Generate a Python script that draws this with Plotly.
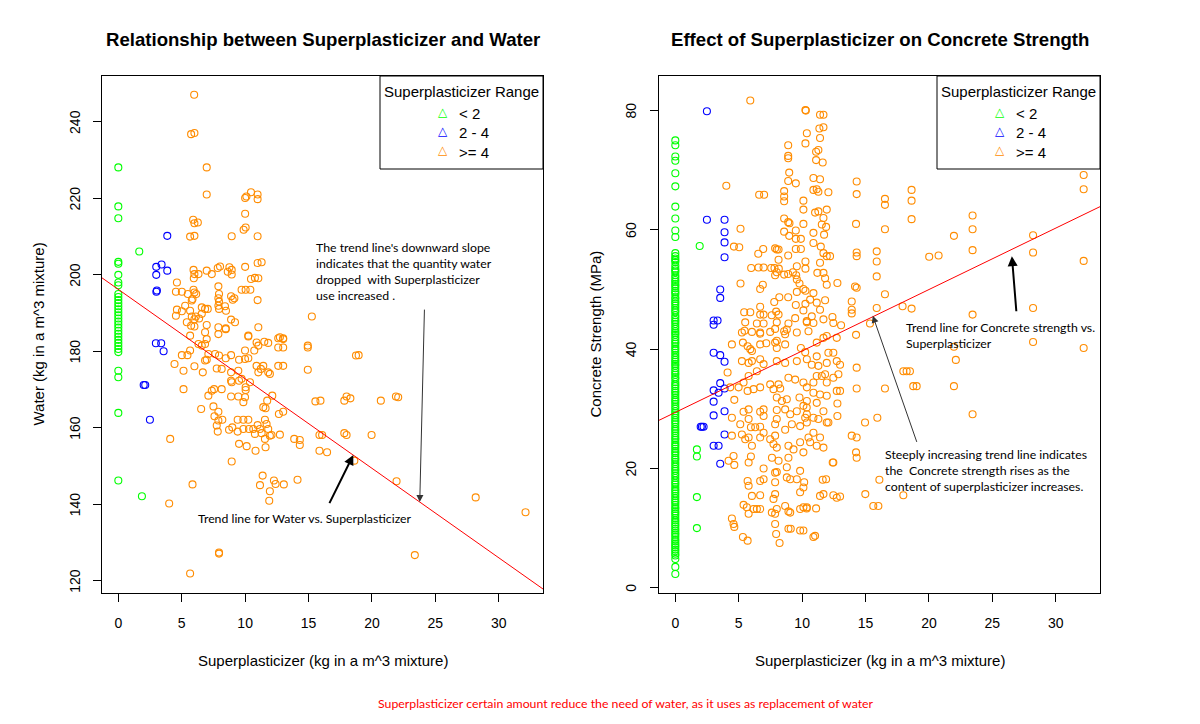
import plotly.graph_objects as go

W, H = 1200, 724

# ---------------- Data: Superplasticizer vs Water ----------------
water_lt2 = [(0, 228.1), (0, 217.9), (0, 214.8), (0, 203.4), (0, 202.9), (0, 200.0), (0, 198.0), (0, 197.3),
             (0, 195.0), (0, 194.2), (0, 193.4), (0, 192.6), (0, 191.8), (0, 191.0), (0, 190.2), (0, 189.4),
             (0, 188.6), (0, 187.8), (0, 187.0), (0, 186.2), (0, 185.4), (0, 184.6), (0, 183.8), (0, 183.0),
             (0, 182.2), (0, 181.4), (0, 180.6), (0, 179.8), (0, 174.9), (0, 173.2), (0, 163.9), (0, 146.2),
             (1.65, 206.1), (1.86, 142.1)]
water_2to4 = [(3.86, 210.2), (2.99, 202.1), (3.41, 202.7), (3.86, 201.1), (2.99, 200.0), (3.04, 195.9),
              (3.0, 195.6), (2.96, 182.1), (3.38, 182.1), (3.57, 180.0), (2.0, 171.2), (2.12, 171.2), (2.49, 162.1)]
water_ge4 = [(5.98, 247.1), (5.74, 236.8), (6.0, 237.1), (6.97, 228.1), (6.97, 221.0), (10.0, 220.1), (10.46, 221.6),
             (10.98, 221.0), (10.98, 219.8), (10.1, 220.5), (10.0, 216.0), (6.0, 213.5), (6.27, 213.7), (5.9, 214.4),
             (9.88, 211.8), (10.04, 212.4), (5.66, 210.0), (6.0, 210.2), (8.94, 210.1), (10.98, 210.1), (10.98, 203.1),
             (11.3, 203.3), (10.0, 202.1), (5.93, 201.3), (6.0, 200.2), (6.32, 200.2), (5.95, 199.1), (6.97, 201.1),
             (7.37, 200.2), (7.84, 201.8), (8.02, 202.2), (8.76, 202.0), (8.94, 201.3), (8.63, 200.8), (8.94, 200.1),
             (10.46, 198.9), (10.77, 199.2), (11.04, 199.1), (4.62, 198.0), (9.72, 196.1), (10.04, 196.1),
             (10.41, 196.1), (10.98, 193.4), (4.54, 195.6), (5.01, 195.6), (5.48, 195.0), (5.93, 196.1), (6.0, 195.4),
             (5.85, 193.7), (6.14, 195.0), (7.89, 197.0), (7.94, 195.0), (7.89, 193.9), (7.94, 193.0), (8.89, 194.4),
             (9.15, 193.9), (9.02, 193.5), (4.62, 190.9), (5.01, 190.5), (4.54, 189.3), (5.27, 191.9), (5.79, 193.3),
             (5.66, 190.6), (6.58, 191.5), (6.84, 191.1), (7.05, 191.1), (6.58, 189.8), (6.11, 189.1), (6.37, 188.6),
             (5.79, 189.1), (6.0, 188.4), (7.89, 191.9), (8.41, 191.8), (8.49, 190.6), (7.94, 191.1), (8.89, 188.3),
             (9.2, 187.6), (5.40, 187.6), (5.74, 186.7), (6.0, 186.5), (6.97, 186.9), (7.89, 186.3), (8.47, 186.0),
             (11.04, 186.3), (6.84, 185.0), (7.89, 184.5), (5.66, 184.1), (10.25, 183.9), (12.74, 183.7),
             (13.0, 183.4), (6.32, 181.9), (6.58, 181.5), (6.84, 181.9), (6.97, 183.2), (8.47, 185.8), (10.25, 184.1),
             (10.90, 182.3), (11.04, 181.5), (11.51, 182.5), (11.82, 182.2), (12.61, 183.4), (13.0, 183.2),
             (12.61, 181.0), (13.0, 181.0), (5.01, 179.0), (5.66, 180.2), (5.45, 179.0), (4.43, 176.7), (5.14, 174.9),
             (6.0, 176.1), (6.66, 174.5), (6.84, 177.6), (6.97, 177.8), (7.10, 179.3), (7.63, 179.3), (7.94, 178.9),
             (7.76, 175.5), (8.15, 175.4), (8.47, 178.2), (8.89, 179.0), (8.89, 174.5), (8.89, 172.3), (9.46, 174.9),
             (9.52, 177.8), (9.99, 180.2), (9.99, 178.0), (10.25, 178.2), (10.72, 180.2), (10.90, 176.2),
             (11.04, 174.5), (11.43, 176.2), (11.24, 175.4), (11.82, 174.5), (11.95, 174.1), (12.61, 176.2),
             (13.0, 176.2), (9.52, 172.3), (9.72, 172.8), (10.04, 170.6), (10.04, 169.9), (10.38, 171.9),
             (8.94, 171.9), (5.14, 170.1), (7.10, 168.4), (7.37, 169.7), (7.55, 170.1), (8.15, 170.1), (8.89, 168.2),
             (9.46, 168.2), (9.99, 168.0), (9.86, 166.7), (12.14, 168.4), (11.74, 167.1), (11.43, 165.4),
             (11.61, 165.1), (12.66, 163.6), (13.0, 164.2), (6.53, 164.9), (7.50, 165.6), (7.89, 164.2),
             (7.58, 163.0), (7.89, 161.9), (8.20, 162.1), (7.76, 160.6), (7.84, 159.0), (9.41, 162.1), (9.86, 162.1),
             (10.25, 162.1), (10.98, 160.7), (11.56, 162.1), (11.69, 161.0), (11.17, 159.7), (11.82, 159.7),
             (11.95, 157.9), (12.08, 158.1), (12.74, 158.2), (13.87, 157.1), (14.31, 156.8), (14.31, 155.5),
             (8.73, 159.5), (8.99, 160.1), (9.41, 159.0), (9.86, 159.7), (10.30, 159.7), (10.64, 159.7),
             (10.77, 158.4), (11.30, 158.6), (11.56, 157.1), (11.61, 154.9), (9.52, 155.8), (10.12, 155.2),
             (10.82, 154.0), (4.09, 157.1), (8.94, 151.2), (11.38, 147.5), (11.17, 145.0), (5.85, 145.2),
             (11.95, 143.4), (12.27, 146.2), (12.40, 145.3), (13.05, 145.2), (11.90, 140.9), (14.13, 146.4),
             (4.01, 140.2), (7.94, 127.4), (7.94, 127.1), (5.66, 121.9), (15.26, 189.1), (14.94, 181.5),
             (14.94, 181.0), (14.94, 175.2), (18.74, 178.9), (18.95, 179.0), (15.54, 166.9), (15.94, 167.1),
             (17.82, 167.1), (18.0, 168.2), (18.3, 167.7), (20.7, 167.1), (21.89, 168.2), (22.07, 168.0),
             (15.86, 158.1), (16.07, 158.1), (17.82, 158.6), (18.0, 158.1), (19.97, 158.1), (15.86, 154.0),
             (16.46, 153.6), (18.61, 151.4), (21.94, 146.0), (28.18, 141.8), (32.11, 137.9), (23.38, 126.7)]

# ---------------- Data: Superplasticizer vs Concrete Strength ----------------
strength_zero = [
    75.0, 74.2, 72.3, 71.6, 69.5, 67.3, 63.9, 61.9, 59.9, 58.8, 56.1, 55.6, 55.2, 54.9, 54.6, 54.0, 53.5, 53.2,
    52.9, 52.4, 52.0, 51.6, 51.3, 50.9, 50.6, 50.2, 49.8, 49.5, 49.2, 48.7, 48.4, 48.0, 47.7, 47.3, 46.9, 46.5,
    46.2, 45.7, 45.3, 44.9, 44.6, 44.2, 43.8, 43.4, 43.0, 42.7, 42.4, 42.0, 41.6, 41.2, 40.9, 40.5, 40.1, 39.8,
    39.4, 39.0, 38.6, 38.2, 37.9, 37.5, 37.2, 36.8, 36.4, 36.0, 35.7, 35.3, 35.0, 34.5, 34.1, 33.8, 33.4, 33.0,
    32.7, 32.3, 31.9, 31.5, 31.2, 30.8, 30.4, 30.0, 29.6, 29.3, 28.9, 28.5, 28.1, 27.8, 27.4, 27.0, 26.6, 26.3,
    25.9, 25.5, 25.1, 24.8, 24.4, 24.0, 23.7, 23.3, 22.9, 22.6, 22.2, 21.8, 21.5, 21.1, 20.7, 20.3, 19.9, 19.6,
    19.2, 18.8, 18.4, 18.0, 17.6, 17.3, 16.9, 16.5, 16.2, 15.8, 15.4, 15.0, 14.6, 14.3, 13.9, 13.5, 13.2, 12.8,
    12.5, 12.1, 11.7, 11.3, 11.0, 10.6, 10.3, 9.9, 9.6, 9.2, 8.9, 8.5, 8.1, 7.8, 7.4, 7.1, 6.8, 6.4, 6.1, 5.7,
    5.4, 4.8, 3.5, 2.3]
strength_lt2 = [(0, v) for v in strength_zero] + [(1.92, 57.3), (1.7, 23.2), (1.7, 22.0), (1.7, 15.2), (1.7, 10.0)]
strength_2to4 = [(2.49, 79.9), (2.49, 61.7), (3.88, 61.7), (3.88, 59.6), (3.88, 57.9), (3.88, 55.4), (3.54, 50.0),
                 (3.54, 48.6), (3.02, 44.8), (3.33, 44.8), (3.02, 44.1), (3.02, 39.4), (3.54, 39.0), (3.88, 37.9),
                 (3.54, 34.3), (3.02, 33.1), (3.41, 32.7), (3.88, 33.4), (3.02, 31.2), (3.02, 28.9), (3.88, 29.6),
                 (2.0, 27.0), (2.1, 27.0), (2.23, 27.0), (3.88, 25.7), (3.02, 23.8), (3.41, 23.8), (3.54, 20.8)]
strength_ge4 = [
    (5.91, 81.7), (10.26, 80.1), (10.37, 76.2), (10.26, 74.5), (8.9, 74.2), (8.9, 72.4), (8.9, 72.0), (8.98, 69.6),
    (8.9, 68.2), (9.5, 67.8), (4.02, 67.4), (6.61, 65.9), (7.0, 65.9), (8.58, 66.5), (8.58, 65.6), (8.58, 64.8),
    (10.1, 64.9), (10.1, 63.4), (8.58, 61.9), (8.9, 61.3), (9.0, 61.1), (10.1, 61.0), (5.14, 60.2), (8.58, 59.7),
    (8.98, 59.0), (9.5, 59.9), (9.5, 58.5), (9.9, 58.5), (4.62, 57.2), (5.04, 57.1), (6.54, 56.0), (6.93, 56.8),
    (7.87, 56.9), (8.0, 56.7), (8.14, 56.7), (9.5, 56.8), (9.9, 56.8), (8.9, 55.7), (8.14, 55.0), (10.26, 54.7),
    (5.98, 53.6), (6.56, 53.7), (6.96, 53.7), (7.56, 53.6), (7.82, 53.6), (8.16, 53.5), (7.87, 52.4), (8.0, 52.9),
    (8.58, 52.5), (8.9, 52.6), (9.27, 52.9), (9.53, 52.4), (9.58, 51.7), (10.26, 53.5), (9.58, 53.9), (5.14, 51.0),
    (6.69, 50.1), (6.9, 50.8), (9.79, 51.0), (10.1, 50.1), (10.26, 49.8), (9.58, 49.6), (8.2, 48.7), (7.8, 47.9),
    (8.9, 48.7), (9.5, 47.4), (10.26, 47.6), (5.43, 46.2), (5.91, 46.2), (6.69, 47.1), (6.96, 45.8), (6.69, 45.8),
    (7.6, 45.7), (7.95, 46.3), (8.14, 45.8), (9.45, 45.2), (10.1, 46.5), (10.37, 44.5), (5.51, 44.5), (6.43, 44.3),
    (6.96, 44.3), (8.0, 44.5), (8.92, 44.3), (5.46, 43.1), (6.04, 42.9), (6.69, 42.8), (7.48, 42.9), (7.87, 43.4),
    (8.58, 43.0),
    (5.25, 42.8), (6.69, 42.6), (8.66, 42.5), (8.79, 43.3), (9.58, 42.8), (10.5, 43.0),
    (4.46, 40.8), (5.33, 41.1), (5.70, 40.5), (5.91, 40.0), (6.04, 39.7), (6.69, 40.8), (7.17, 41.0), (7.87, 41.1),
    (8.0, 41.4), (8.0, 40.2), (8.66, 40.8),
    (5.25, 38.0), (5.78, 37.7), (6.04, 38.0), (6.69, 38.3), (6.96, 37.5), (8.0, 38.0), (8.66, 37.7), (9.58, 38.0),
    (9.9, 40.2), (10.24, 39.5), (10.37, 38.3),
    (4.12, 36.1), (5.78, 35.5), (6.43, 36.3), (7.48, 34.1), (8.14, 34.1), (8.27, 33.4), (8.92, 35.2), (9.45, 34.9),
    (10.1, 34.4), (10.37, 33.6), (5.38, 34.4),
    (4.33, 33.6), (4.99, 33.6), (5.70, 33.0), (6.17, 33.3), (6.69, 33.6), (7.74, 33.3), (8.0, 31.9), (8.40, 31.3),
    (8.79, 31.6), (9.79, 31.9), (10.1, 30.5), (10.37, 31.3),
    (4.65, 31.5), (5.38, 29.5), (5.78, 29.9), (6.69, 29.5), (6.96, 29.9), (8.0, 29.8), (8.66, 29.9), (9.06, 29.1),
    (9.58, 29.6), (10.24, 28.5), (10.37, 29.1),
    (4.46, 28.5), (5.12, 27.4), (5.78, 28.3), (5.96, 26.9), (6.30, 26.9), (6.69, 27.0), (6.96, 28.8), (7.87, 27.4),
    (8.0, 28.3), (8.66, 26.5), (9.19, 27.4), (9.84, 27.1), (10.37, 27.7),
    (4.46, 25.5), (5.25, 25.7), (5.51, 24.9), (5.78, 25.2), (6.04, 23.8), (6.69, 25.2), (6.96, 26.0), (7.48, 24.9),
    (7.87, 25.5), (8.0, 23.5), (7.74, 24.1), (8.92, 23.8), (9.32, 23.2), (9.84, 24.4), (10.1, 22.7), (10.5, 25.2),
    (4.59, 22.1), (4.2, 21.3), (4.65, 20.6), (5.78, 21.0), (5.96, 22.0), (6.96, 20.0), (7.62, 21.8), (8.14, 21.3),
    (7.87, 19.3), (8.79, 20.2), (8.92, 21.8), (9.84, 19.6),
    (5.70, 17.9), (5.78, 17.1), (6.69, 17.9), (6.96, 18.2), (7.87, 17.7), (8.0, 19.4), (8.79, 18.5), (9.06, 18.2),
    (9.58, 18.2), (10.16, 17.7), (9.84, 16.0), (10.1, 16.8),
    (6.04, 15.4), (6.69, 15.5), (7.87, 15.7), (7.74, 14.9), (8.66, 13.7), (8.92, 12.8), (9.06, 12.6), (5.38, 13.9),
    (5.64, 13.5), (5.78, 12.4), (6.17, 13.2), (6.43, 13.2), (6.69, 13.2), (7.61, 12.6), (7.87, 12.4), (8.0, 13.2),
    (9.84, 13.2), (10.1, 13.5), (10.37, 13.5),
    (4.46, 11.6), (4.59, 10.7), (4.65, 10.2), (7.87, 10.7), (7.95, 9.0), (8.92, 9.9), (9.1, 9.9), (9.84, 9.6),
    (5.33, 8.5), (5.70, 7.9), (8.22, 7.5),
    (10.29, 80.0), (11.41, 79.3), (11.68, 79.3), (11.36, 77.0), (11.68, 77.2), (11.41, 75.4), (11.1, 73.1),
    (11.28, 73.4), (11.62, 71.3), (11.1, 71.7), (10.89, 68.7), (11.41, 68.5), (11.15, 66.8), (10.89, 66.7),
    (11.28, 66.4), (12.07, 66.3), (11.02, 62.9), (11.28, 63.1), (11.94, 63.4), (10.89, 59.5), (11.68, 62.0),
    (11.55, 60.9), (11.89, 60.5), (11.73, 59.2),
    (14.3, 68.1), (14.3, 66.0), (16.53, 65.2), (16.53, 64.2), (18.63, 66.7), (18.63, 64.9), (18.63, 61.8),
    (14.25, 61.0), (16.53, 60.1), (23.44, 62.4), (23.44, 60.1), (23.44, 56.6), (21.97, 59.0), (28.21, 59.1),
    (28.21, 56.2), (32.2, 69.2), (32.2, 66.8), (32.2, 54.8), (20.02, 55.5), (20.76, 55.7),
    (14.3, 56.2), (14.3, 55.6), (15.88, 56.4), (15.88, 54.7), (15.88, 52.2), (16.53, 49.2), (15.88, 46.9),
    (15.35, 44.3), (17.92, 47.2), (18.63, 46.8), (14.17, 50.5), (14.3, 50.3), (13.91, 48.0), (13.91, 46.6),
    (13.91, 46.0), (14.25, 42.4),
    (23.44, 45.8), (28.21, 46.9), (28.21, 41.2), (32.2, 40.2), (21.97, 40.4), (22.12, 38.2),
    (17.98, 36.3), (18.24, 36.3), (18.5, 36.3), (18.76, 33.8), (19.03, 33.8), (21.97, 33.8), (23.44, 29.1),
    (14.3, 36.9), (14.3, 33.4), (16.53, 33.4),
    (12.78, 51.1), (12.39, 45.4), (13.07, 44.0), (12.73, 41.9), (12.73, 38.0), (12.99, 37.4), (12.86, 35.8),
    (12.99, 33.0), (12.78, 30.9), (12.78, 28.8), (12.07, 27.7),
    (14.96, 27.7), (15.93, 28.5), (13.91, 25.5), (14.3, 25.2), (14.25, 22.7), (14.3, 21.8), (12.41, 21.0),
    (14.98, 15.7), (15.61, 13.7), (16.01, 13.7), (16.09, 18.1), (17.98, 15.5),
    (11.62, 18.1), (11.89, 18.2), (11.41, 15.4), (11.68, 15.7), (12.46, 15.5), (12.73, 15.1), (12.99, 15.3),
    (11.1, 13.3), (10.36, 13.3), (10.89, 8.5), (11.02, 8.7), (10.1, 9.6),
    (10.89, 57.8), (11.47, 57.2), (11.68, 56.1), (11.94, 55.6), (12.2, 55.6), (11.41, 54.5), (11.2, 52.8),
    (11.68, 52.8), (11.81, 51.9), (11.94, 50.8), (10.89, 49.4), (10.63, 48.3), (11.15, 47.8), (11.81, 48.2),
    (11.41, 46.6), (10.76, 45.5), (11.68, 45.0), (10.36, 44.7), (10.89, 44.4), (12.46, 44.4), (11.15, 41.1),
    (11.68, 41.9), (11.94, 42.2), (12.07, 39.4), (12.46, 39.4), (11.15, 38.8), (10.76, 37.4), (11.28, 37.2),
    (11.94, 37.7), (11.15, 35.5), (11.55, 35.5), (11.81, 35.8), (12.46, 35.2), (10.89, 34.4), (11.94, 34.4),
    (10.89, 32.7), (11.41, 32.4), (11.94, 32.2), (12.73, 33.0), (11.15, 31.0), (10.36, 30.2), (11.68, 29.6),
    (10.89, 28.5), (11.28, 28.3), (11.94, 27.7), (10.89, 26.0), (11.41, 25.2), (11.68, 23.5), (10.63, 24.4),
    (11.15, 23.8), (12.46, 21.0)]

# trend lines: intercept, slope
water_trend = (196.2, -2.34)
strength_trend = (29.4, 1.03)

range_labels = ["&lt; 2", "2 - 4", "&gt;= 4"]
range_colors = ["#00FF00", "#0000FF", "#FF8C00"]

x_ticks = [0, 5, 10, 15, 20, 25, 30]
water_ticks = [120, 140, 160, 180, 200, 220, 240]
strength_ticks = [0, 20, 40, 60, 80]

x_range = [-1.288, 33.488]
water_range = [116.79, 252.01]
strength_range = [-0.88, 85.8]


# ---------------- Figure ----------------
def px(p):
    return p / W


def py(p):
    return 1 - p / H


fig = go.Figure()

groups_w = [water_lt2, water_2to4, water_ge4]
groups_s = [strength_lt2, strength_2to4, strength_ge4]
for grp, col in zip(groups_w, range_colors):
    fig.add_trace(go.Scatter(x=[p[0] for p in grp], y=[p[1] for p in grp], mode="markers",
                             marker=dict(symbol="circle-open", size=7, color=col, line=dict(width=1.1, color=col)),
                             xaxis="x", yaxis="y", showlegend=False, cliponaxis=True))
for grp, col in zip(groups_s, range_colors):
    fig.add_trace(go.Scatter(x=[p[0] for p in grp], y=[p[1] for p in grp], mode="markers",
                             marker=dict(symbol="circle-open", size=7, color=col, line=dict(width=1.1, color=col)),
                             xaxis="x2", yaxis="y2", showlegend=False, cliponaxis=True))

fig.add_trace(go.Scatter(x=x_range, y=[water_trend[0] + water_trend[1] * v for v in x_range], mode="lines",
                         line=dict(color="#FF0000", width=1), xaxis="x", yaxis="y", showlegend=False))
fig.add_trace(go.Scatter(x=x_range, y=[strength_trend[0] + strength_trend[1] * v for v in x_range], mode="lines",
                         line=dict(color="#FF0000", width=1), xaxis="x2", yaxis="y2", showlegend=False))

axis_common = dict(showgrid=False, zeroline=False, showline=True, mirror=True, linecolor="black", linewidth=1,
                   ticks="outside", ticklen=8, tickcolor="black", tickwidth=1,
                   tickfont=dict(family="Liberation Sans, Arial", size=14, color="black"))

dom_y = [py(593), py(76)]
fig.update_layout(
    width=W, height=H, margin=dict(l=0, r=0, t=0, b=0), paper_bgcolor="white", plot_bgcolor="white",
    xaxis=dict(domain=[px(102), px(543)], range=x_range, tickvals=x_ticks, anchor="y", ticklabelstandoff=9,
               **axis_common),
    yaxis=dict(domain=dom_y, range=water_range, tickvals=water_ticks, showticklabels=False, anchor="x",
               **axis_common),
    xaxis2=dict(domain=[px(659), px(1100)], range=x_range, tickvals=x_ticks, anchor="y2", ticklabelstandoff=9,
                **axis_common),
    yaxis2=dict(domain=dom_y, range=strength_range, tickvals=strength_ticks, showticklabels=False, anchor="x2",
                **axis_common),
)

ann = []
base_font = dict(family="Liberation Sans, Arial", color="black")


def label(text, x, y, size, **kw):
    d = dict(text=text, x=px(x), y=py(y), xref="paper", yref="paper", showarrow=False, xanchor="center",
             yanchor="middle", font=dict(size=size, **base_font))
    d.update(kw)
    return d


# rotated y tick labels (R style, parallel to axis)
for v in water_ticks:
    ann.append(dict(text=str(v), x=px(75), y=v, xref="paper", yref="y", showarrow=False, textangle=-90,
                    xanchor="center", yanchor="middle", font=dict(size=14, **base_font)))
for v in strength_ticks:
    ann.append(dict(text=str(v), x=px(631), y=v, xref="paper", yref="y2", showarrow=False, textangle=-90,
                    xanchor="center", yanchor="middle", font=dict(size=14, **base_font)))

# titles
ann.append(label("<b>Relationship between Superplasticizer and Water</b>", 322.5, 40, 18.6))
ann.append(label("<b>Effect of Superplasticizer on Concrete Strength</b>", 879.5, 40, 18.6))
# axis titles
for cx in (322.5, 879.5):
    ann.append(label("Superplasticizer (kg in a m^3 mixture)", cx, 660, 15))
ann.append(label("Water (kg in a m^3 mixture)", 38, 334.5, 15, textangle=-90))
ann.append(label("Concrete Strength (MPa)", 595, 334.5, 15, textangle=-90))
# footnote
ann.append(label("Superplasticizer certain amount reduce the need of water, as it uses as replacement of water",
                 625.5, 703, 12, font=dict(family="Lato", size=12.3, color="#FF0000")))

# legends
shapes = []
for lx0 in (380, 937):
    shapes.append(dict(type="rect", xref="paper", yref="paper", x0=px(lx0), x1=px(lx0 + 163), y0=py(169), y1=py(76),
                       line=dict(color="black", width=1), fillcolor="white", layer="above"))
    ann.append(label("Superplasticizer Range", lx0 + 81.5, 91, 15))
    for i, (lab, col) in enumerate(zip(range_labels, range_colors)):
        yy = 114 + 19 * i
        ann.append(label("△", lx0 + 63, yy - 2, 12, font=dict(family="DejaVu Sans", size=12, color=col)))
        ann.append(label(lab, lx0 + 77, yy, 15, xanchor="left"))

note_font = dict(family="Lato", size=12.3, color="black")
# left notes
ann.append(dict(text="The trend line's downward slope<br>indicates that the quantity water<br>"
                     "dropped  with Superplasticizer<br>use increased .",
                x=15.46, y=201.0, xref="x", yref="y", xanchor="left", yanchor="middle", align="left",
                showarrow=False, font=note_font))
ann.append(dict(text="Trend line for Water vs. Superplasticizer", x=6.16, y=136.4, xref="x", yref="y",
                xanchor="left", yanchor="middle", showarrow=False, font=note_font))
ann.append(dict(text="", x=23.77, y=140.6, ax=24.14, ay=191.3, xref="x", yref="y", axref="x", ayref="y",
                showarrow=True, arrowhead=2, arrowsize=1.4, arrowwidth=1, arrowcolor="#333333"))
ann.append(dict(text="", x=18.53, y=152.9, ax=16.59, ay=139.9, xref="x", yref="y", axref="x", ayref="y",
                showarrow=True, arrowhead=2, arrowsize=1, arrowwidth=2, arrowcolor="black"))
# right notes
ann.append(dict(text="Trend line for Concrete strength vs.<br>Superplasticizer", x=18.03, y=42.3, xref="x2",
                yref="y2", xanchor="left", yanchor="middle", align="left", showarrow=False, font=note_font))
ann.append(dict(text="Steeply increasing trend line indicates<br>the  Concrete strength rises as the<br>"
                     "content of superplasticizer increases.",
                x=16.4, y=19.7, xref="x2", yref="y2", xanchor="left", yanchor="middle", align="left",
                showarrow=False, font=note_font))
ann.append(dict(text="", x=26.54, y=55.6, ax=26.9, ay=46.1, xref="x2", yref="y2", axref="x2", ayref="y2",
                showarrow=True, arrowhead=2, arrowsize=1, arrowwidth=2, arrowcolor="black"))
ann.append(dict(text="", x=15.57, y=45.6, ax=19.08, ay=24.2, xref="x2", yref="y2", axref="x2", ayref="y2",
                showarrow=True, arrowhead=2, arrowsize=1.4, arrowwidth=1, arrowcolor="#333333"))

fig.update_layout(annotations=ann, shapes=shapes)
fig.write_html("out.html")
